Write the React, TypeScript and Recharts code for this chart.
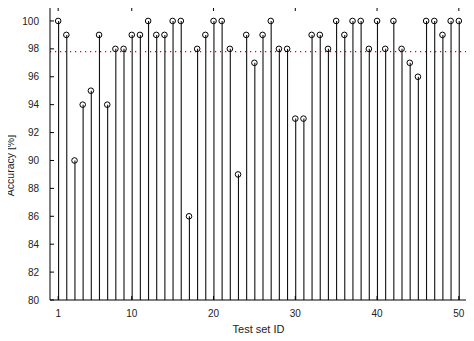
import React from 'react';
import { ComposedChart, Bar, Scatter, XAxis, YAxis, ReferenceLine } from 'recharts';

const testIds = [
  1, 2, 3, 4, 5, 6, 7, 8, 9, 10, 11, 12, 13, 14, 15, 16, 17, 18, 19, 20, 21, 22, 23, 24, 25,
  26, 27, 28, 29, 30, 31, 32, 33, 34, 35, 36, 37, 38, 39, 40, 41, 42, 43, 44, 45, 46, 47, 48, 49, 50,
];
const accuracy = [
  100, 99, 90, 94, 95, 99, 94, 98, 98, 99, 99, 100, 99, 99, 100, 100, 86, 98, 99, 100, 100, 98, 89, 99, 97,
  99, 100, 98, 98, 93, 93, 99, 99, 98, 100, 99, 100, 100, 98, 100, 98, 100, 98, 97, 96, 100, 100, 99, 100, 100,
];
const meanAccuracy = 97.8;
const xTicks = [1, 10, 20, 30, 40, 50];
const yTicks = [80, 82, 84, 86, 88, 90, 92, 94, 96, 98, 100];

const data = testIds.map((id, i) => ({ id, acc: accuracy[i] }));

const font = 'Liberation Sans, Arial, sans-serif';
const tickStyle = { fontSize: 10, fill: '#222', fontFamily: font };

const Stem = (props: any) => {
  const { x, y, width, height } = props;
  const cx = x + width / 2;
  return <line x1={cx} y1={y} x2={cx} y2={y + height} stroke="#111" strokeWidth={1.1} />;
};

const Marker = (props: any) => (
  <circle cx={props.cx} cy={props.cy} r={2.8} fill="none" stroke="#000" strokeWidth={1} />
);

// box edges on top/right carry tick marks only
const NoLabel = () => <g />;

const YLabel = (props: any) => {
  const vb = props.viewBox;
  const cx = 10;
  const cy = vb.y + vb.height / 2 + 12;
  return (
    <text
      x={cx}
      y={cy}
      transform={`rotate(-90, ${cx}, ${cy})`}
      textAnchor="middle"
      dominantBaseline="central"
      fontSize={10.5}
      fill="#222"
      fontFamily={font}
    >
      Accuracy [%]
    </text>
  );
};

const XLabel = (props: any) => {
  const vb = props.viewBox;
  return (
    <text x={vb.x + vb.width / 2} y={333} textAnchor="middle" fontSize={11} fill="#222" fontFamily={font}>
      Test set ID
    </text>
  );
};

export default function App() {
  return (
    <div style={{ margin: -8, width: 474, height: 341, background: '#fff' }}>
      <ComposedChart width={474} height={341} data={data} margin={{ top: 6, right: 6, bottom: 0, left: 0 }}>
        <XAxis
          dataKey="id"
          type="number"
          domain={[0, 51]}
          ticks={xTicks}
          interval={0}
          tickSize={-4}
          tickMargin={14}
          height={41}
          stroke="#000"
          tick={tickStyle}
          label={<XLabel />}
        />
        <XAxis
          xAxisId="top"
          orientation="top"
          dataKey="id"
          type="number"
          domain={[0, 51]}
          ticks={xTicks}
          interval={0}
          tickSize={-4}
          height={1}
          stroke="#000"
          tick={NoLabel}
        />
        <YAxis
          type="number"
          domain={[80, 101]}
          ticks={yTicks}
          interval={0}
          tickSize={-4}
          tickMargin={15}
          width={50}
          stroke="#000"
          tick={tickStyle}
          label={<YLabel />}
        />
        <YAxis
          yAxisId="right"
          orientation="right"
          type="number"
          domain={[80, 101]}
          ticks={yTicks}
          interval={0}
          tickSize={-4}
          width={1}
          stroke="#000"
          tick={NoLabel}
        />
        <ReferenceLine y={meanAccuracy} stroke="#e00000" strokeWidth={1.2} strokeDasharray="1.2 3.8" />
        <Bar dataKey="acc" barSize={1} shape={<Stem />} isAnimationActive={false} />
        <Scatter dataKey="acc" shape={<Marker />} isAnimationActive={false} />
      </ComposedChart>
    </div>
  );
}
